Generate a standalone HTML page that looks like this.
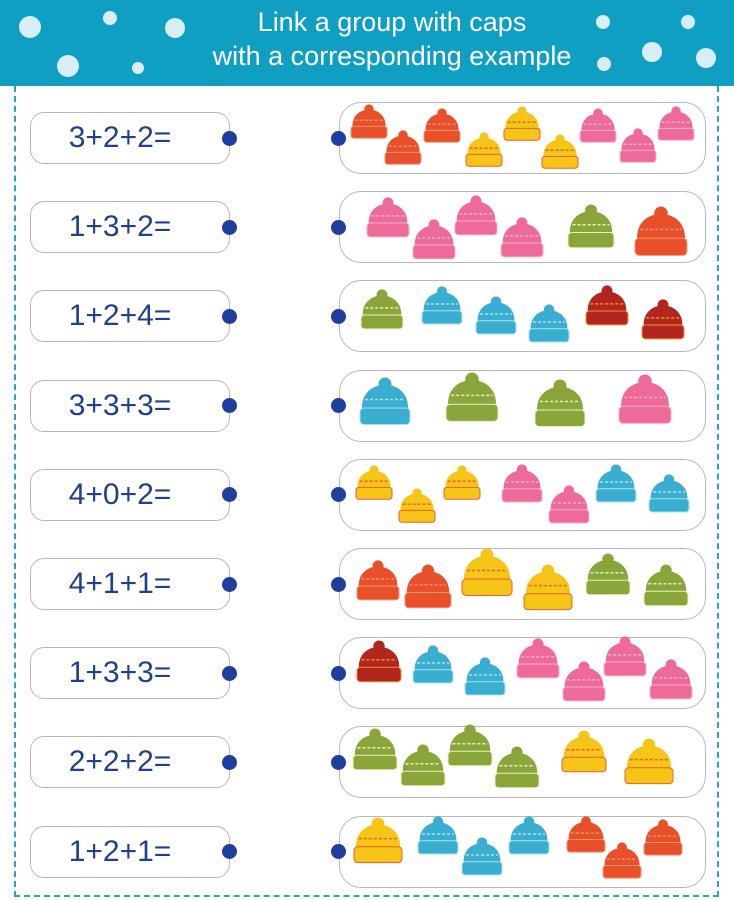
<!DOCTYPE html>
<html><head><meta charset="utf-8"><style>
body{margin:0;width:734px;height:900px;background:#fff;position:relative;overflow:hidden;font-family:"Liberation Sans",sans-serif}
#hdr{position:absolute;left:0;top:0;width:734px;height:86px;background:#0f9fc2}
#title{position:absolute;left:162px;width:460px;top:5px;text-align:center;color:#fff;font-size:27px;line-height:34px}
#border{position:absolute;left:14px;top:86px;width:705px;height:811px;border:2px dashed #2aa3c4;border-top:none;box-sizing:border-box}
.lb{position:absolute;left:30px;width:200px;height:52px;border:1.5px solid #b8b8b8;border-radius:14px;box-sizing:border-box;font-size:30px;color:#1f3f8f;text-align:center;line-height:50px;background:#fff;padding-right:20px}
.rb{position:absolute;left:339px;width:367px;height:72px;border:1.5px solid #b8b8b8;border-radius:22px;box-sizing:border-box;background:#fff}
.dot{position:absolute;width:15px;height:15px;border-radius:50%;background:#1f3f9f}
svg{position:absolute;left:0;top:0}
</style></head><body>
<div id="hdr"></div>
<svg width="734" height="90">
<g fill="#d8eef6"><circle cx="30" cy="27" r="11"/><circle cx="68" cy="66" r="11"/><circle cx="110" cy="18" r="7"/><circle cx="138" cy="68" r="6"/><circle cx="175" cy="28" r="10"/><circle cx="603" cy="22" r="7"/><circle cx="604" cy="64" r="7"/><circle cx="652" cy="52" r="10"/><circle cx="688" cy="22" r="7"/><circle cx="706" cy="58" r="10"/></g></svg>
<div id="title">Link a group with caps<br>with a corresponding example</div>
<div id="border"></div>
<div id="rows"></div>
<svg id="hats" width="734" height="900"></svg>
<script>
var eq=["3+2+2=","1+3+2=","1+2+4=","3+3+3=","4+0+2=","4+1+1=","1+3+3=","2+2+2=","1+2+1="];
var h='';
for(var i=0;i<9;i++){var c=138+i*89.2;
h+='<div class="lb" style="top:'+(c-26)+'px">'+eq[i]+'</div>';
h+='<div class="rb" style="top:'+(c-36)+'px"></div>';
h+='<div class="dot" style="left:222px;top:'+(c-7.5)+'px"></div>';
h+='<div class="dot" style="left:331px;top:'+(c-7.5)+'px"></div>';}
document.getElementById('rows').innerHTML=h;
var C={r:['#e8502a','#f59070'],y:['#f5c518','#e8602a'],p:['#ee6a9a','#f7b0c8'],g:['#8aa63a','#e8f0c0'],b:['#3aaed0','#a8e0f0'],d:['#b3261e','#f08a30']};
var H=[
[[369,122,36,'r'],[403,148,36,'r'],[442,126,36,'r'],[484,150,36,'y'],[522,124,36,'y'],[560,152,36,'y'],[598,126,36,'p'],[638,146,36,'p'],[676,124,36,'p']],
[[388,218,42,'p'],[434,240,42,'p'],[476,216,42,'p'],[522,238,42,'p'],[591,227,46,'g'],[661,232,52,'r']],
[[382,310,42,'g'],[442,306,40,'b'],[496,316,40,'b'],[549,324,40,'b'],[607,306,42,'d'],[663,320,42,'d']],
[[385,402,50,'b'],[472,398,52,'g'],[560,404,50,'g'],[645,400,52,'p']],
[[374,483,36,'y'],[417,506,36,'y'],[462,483,36,'y'],[522,484,40,'p'],[569,505,40,'p'],[616,484,40,'b'],[669,494,40,'b']],
[[378,581,42,'r'],[428,587,46,'r'],[487,573,50,'y'],[548,588,48,'y'],[608,575,44,'g'],[666,586,44,'g']],
[[379,662,44,'d'],[433,665,40,'b'],[485,677,40,'b'],[538,659,42,'p'],[584,682,42,'p'],[625,657,42,'p'],[671,680,42,'p']],
[[375,750,44,'g'],[423,766,44,'g'],[470,746,44,'g'],[517,768,44,'g'],[584,752,44,'y'],[649,762,48,'y']],
[[378,841,48,'y'],[438,836,40,'b'],[482,857,40,'b'],[529,836,40,'b'],[586,835,38,'r'],[622,861,38,'r'],[663,838,38,'r']]];
var s='';
H.forEach(function(r){r.forEach(function(t){var x=t[0],y=t[1],w=t[2],c=C[t[3]];
var hw=w/2,bt=y+0.12*w,bb=y+0.45*w,top=y-0.5*w;
s+='<path d="M'+(x-hw*0.92)+' '+bt+' C'+(x-hw*0.95)+' '+(top)+' '+(x+hw*0.95)+' '+(top)+' '+(x+hw*0.92)+' '+bt+' Z" fill="'+c[0]+'"/>';
s+='<rect x="'+(x-hw)+'" y="'+bt+'" width="'+w+'" height="'+(bb-bt)+'" rx="'+(w*0.08)+'" fill="'+c[0]+'" stroke="'+c[1]+'" stroke-width="1"/>';
s+='<line x1="'+(x-hw*0.8)+'" y1="'+(y-0.05*w)+'" x2="'+(x+hw*0.8)+'" y2="'+(y-0.05*w)+'" stroke="'+c[1]+'" stroke-width="1.5" stroke-dasharray="3 2"/>';
s+='<circle cx="'+x+'" cy="'+(y-0.36*w)+'" r="'+(0.13*w)+'" fill="'+c[0]+'"/>';});});
document.getElementById('hats').innerHTML=s;
</script>
</body></html>
